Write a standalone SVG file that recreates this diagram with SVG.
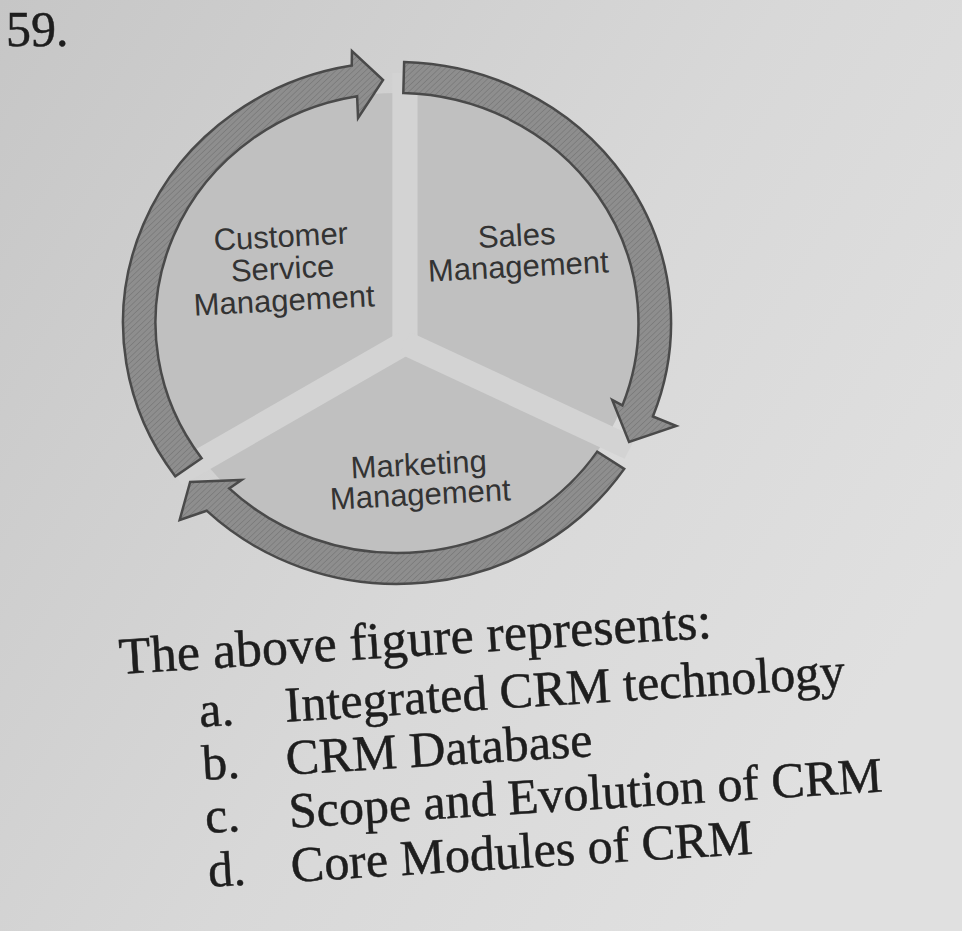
<svg xmlns="http://www.w3.org/2000/svg" width="962" height="931" viewBox="0 0 962 931">
<defs>
<linearGradient id="paper" x1="0" y1="0" x2="1" y2="0.6">
<stop offset="0" stop-color="#c6c6c6"/>
<stop offset="0.6" stop-color="#d8d8d8"/>
<stop offset="1" stop-color="#e0e0e0"/>
</linearGradient>
<pattern id="hatch" width="4" height="4" patternUnits="userSpaceOnUse" patternTransform="rotate(45)">
<rect width="4" height="4" fill="#8e8e8e"/>
<line x1="0" y1="0" x2="0" y2="4" stroke="#7a7a7a" stroke-width="1.5"/>
</pattern>
</defs>
<style>
.arrow{fill:url(#hatch);stroke:#4a4a4a;stroke-width:2.5;stroke-linejoin:miter;vector-effect:non-scaling-stroke}
.lbl{font-family:"Liberation Sans",Arial,sans-serif;font-size:31px;fill:#333;text-anchor:middle}
.q{font-family:"Liberation Serif","Times New Roman",serif;fill:#1e1e1e;stroke:#1e1e1e;stroke-width:0.5}
.gap{stroke:#d3d3d3;stroke-width:24;stroke-linecap:butt;fill:none}
</style>
<rect width="962" height="931" fill="url(#paper)"/>
<text class="q" x="6" y="46" font-size="50">59.</text>

<g transform="translate(397,323) scale(1.05,1)">
<circle id="pie" cx="0" cy="0" r="230" fill="#c0c0c0"/>
<g id="gaps">
<line class="gap" x1="7.6" y1="20" x2="7.6" y2="-250"/>
<line class="gap" x1="7.6" y1="20" x2="-211" y2="152"/>
<line class="gap" x1="7.6" y1="20" x2="222" y2="125"/>
</g>
<g id="connectors">
<path class="arrow" d="M-211.1,153.4 A261,261 0 0 1 -43.1,-257.4 L-42.9,-272 L-13.3,-243 L-37.1,-205 L-38.0,-226.8 A230,230 0 0 0 -186.1,135.2 Z"/>
<path class="arrow" d="M6.8,-260.9 A261,261 0 0 1 243.7,93.5 L266,103 L221,119 L205,77 L214.7,82.4 A230,230 0 0 0 6.0,-229.9 Z"/>
<path class="arrow" d="M216.4,145.9 A261,261 0 0 1 -181.3,187.7 L-207,197 L-197,159 L-148,157 L-159.8,165.4 A230,230 0 0 0 190.7,128.6 Z"/>
</g>
</g>

<g id="customer-service" transform="rotate(-3 283 279)">
<text class="lbl" x="283" y="247">Customer</text>
<text class="lbl" x="283" y="279">Service</text>
<text class="lbl" x="283" y="311">Management</text>
</g>
<g id="sales" transform="rotate(-3 518 262)">
<text class="lbl" x="518" y="246">Sales</text>
<text class="lbl" x="518" y="277">Management</text>
</g>
<g id="marketing" transform="rotate(-3 420 490)">
<text class="lbl" x="420" y="475">Marketing</text>
<text class="lbl" x="420" y="505">Management</text>
</g>

<g id="question">
<text class="q" x="120" y="674" font-size="52" transform="rotate(-3.5 120 674)">The above figure represents:</text>
<g transform="rotate(-3.5 200 727)"><text class="q" x="200" y="727" font-size="50">a.</text><text class="q" x="286" y="727" font-size="50">Integrated CRM technology</text></g>
<g transform="rotate(-3.5 203 780)"><text class="q" x="203" y="780" font-size="50">b.</text><text class="q" x="287" y="780" font-size="50">CRM Database</text></g>
<g transform="rotate(-3.5 206 833)"><text class="q" x="206" y="833" font-size="50">c.</text><text class="q" x="290" y="833" font-size="50">Scope and Evolution of CRM</text></g>
<g transform="rotate(-3.5 209 887)"><text class="q" x="209" y="887" font-size="50">d.</text><text class="q" x="292" y="887" font-size="50">Core Modules of CRM</text></g>
</g>
</svg>
